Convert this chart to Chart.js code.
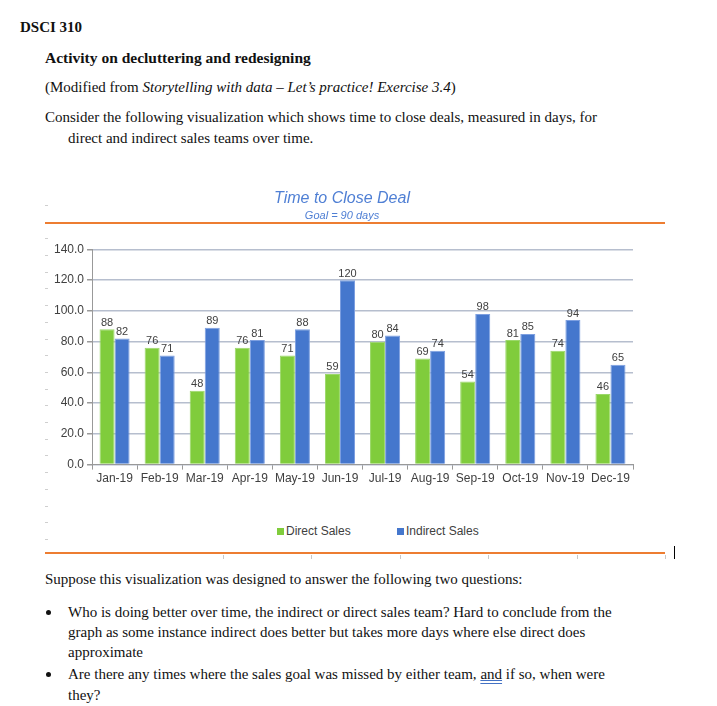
<!DOCTYPE html>
<html>
<head>
<meta charset="utf-8">
<script src="https://cdn.jsdelivr.net/npm/chart.js@4/dist/chart.umd.min.js"></script>
<style>
  html, body { margin: 0; padding: 0; background: #fff; }
  #page { position: relative; width: 717px; height: 706px; overflow: hidden;
    font-family: "Liberation Serif", "Times New Roman", serif; color: #111; font-size: 15px; }
  .t { position: absolute; white-space: nowrap; line-height: 1; }
  .b { font-weight: bold; }
  .bul { position: absolute; left: 46px; width: 5px; height: 5px; border-radius: 50%; background: #111; }
  .ul { text-decoration: underline double #4472c4; }
  #c { position: absolute; left: 40px; top: 180px; }
  .hr { position: absolute; left: 45px; width: 620px; height: 2px; background: #ed7d31; }
  #dashes { position: absolute; left: 45px; top: 205px; width: 3px; height: 345px;
    background: repeating-linear-gradient(to bottom, #cfcfcf 0 1px, transparent 1px 16.7px); }
  #ticks { position: absolute; left: 223px; top: 555px; width: 443px; height: 4px;
    background: repeating-linear-gradient(to right, #c8c8c8 0 1px, transparent 1px 88.4px); }
  #cursor { position: absolute; left: 674px; top: 546px; width: 1px; height: 13px; background: #000; }
  #legend { position: absolute; top: 524px; left: 277px; font: 12px "Liberation Sans", Arial, sans-serif; color: #404040; }
  #legend span.item { position: absolute; white-space: nowrap; line-height: 14px; }
  #legend i { display: inline-block; width: 7px; height: 7px; margin-right: 2px; vertical-align: 0px; }
</style>
</head>
<body>
<div id="page">
  <div class="t b" style="left:20px; top:20px; font-size:15px;">DSCI 310</div>
  <div class="t b" style="left:45px; top:50px; font-size:15.5px;">Activity on decluttering and redesigning</div>
  <div class="t" style="left:45px; top:80px;">(Modified from <i>Storytelling with data – Let’s practice! Exercise 3.4</i>)</div>
  <div class="t" style="left:45px; top:110px;">Consider the following visualization which shows time to close deals, measured in days, for</div>
  <div class="t" style="left:68px; top:131px;">direct and indirect sales teams over time.</div>

  <div id="dashes"></div>
  <div class="hr" style="top:222px;"></div>
  <canvas id="c" width="635" height="308"></canvas>
  <div id="legend"></div>
  <div class="hr" style="top:552px;"></div>
  <div id="ticks"></div>
  <div id="cursor"></div>

  <div class="t" style="left:45px; top:572px;">Suppose this visualization was designed to answer the following two questions:</div>
  <div class="bul" style="top:610px;"></div>
  <div class="t" style="left:68px; top:605px;">Who is doing better over time, the indirect or direct sales team? Hard to conclude from the</div>
  <div class="t" style="left:68px; top:625px;">graph as some instance indirect does better but takes more days where else direct does</div>
  <div class="t" style="left:68px; top:645px;">approximate</div>
  <div class="bul" style="top:672px;"></div>
  <div class="t" style="left:68px; top:667px;">Are there any times where the sales goal was missed by either team, <span class="ul">and</span> if so, when were</div>
  <div class="t" style="left:68px; top:688px;">they?</div>
</div>

<script>
// === данные ===
const months = ['Jan-19','Feb-19','Mar-19','Apr-19','May-19','Jun-19','Jul-19','Aug-19','Sep-19','Oct-19','Nov-19','Dec-19'];
const directSales   = [88, 76, 48, 76, 71, 59, 80, 69, 54, 81, 74, 46];
const indirectSales = [82, 71, 89, 81, 88, 120, 84, 74, 98, 85, 94, 65];
const seriesNames = ['Direct Sales', 'Indirect Sales'];
const yMax = 140, yStep = 20;

const green = '#80cc3c', blue = '#4577cd';
const sans = '"Liberation Sans", Arial, sans-serif';

// подписи значений над столбцами
const valueLabels = {
  id: 'valueLabels',
  afterDatasetsDraw(chart) {
    const ctx = chart.ctx;
    ctx.save();
    ctx.font = '11px ' + sans;
    ctx.fillStyle = '#404040';
    ctx.textAlign = 'center';
    ctx.textBaseline = 'bottom';
    chart.data.datasets.forEach((ds, i) => {
      chart.getDatasetMeta(i).data.forEach((bar, j) => {
        ctx.fillText(ds.data[j], bar.x, bar.y - 1);
      });
    });
    ctx.restore();
  }
};

const chart = new Chart(document.getElementById('c'), {
  type: 'bar',
  data: {
    labels: months,
    datasets: [
      { label: seriesNames[0], data: directSales, backgroundColor: green, borderColor: '#9bd86a', borderWidth: 1 },
      { label: seriesNames[1], data: indirectSales, backgroundColor: blue, borderColor: '#7d9fe0', borderWidth: 1 }
    ]
  },
  options: {
    responsive: false,
    animation: false,
    layout: { padding: { left: 11, right: 42, top: 0, bottom: 0 } },
    datasets: { bar: { categoryPercentage: 0.667, barPercentage: 1.0 } },
    plugins: {
      legend: { display: false },
      tooltip: { enabled: false },
      title: {
        display: true, text: 'Time to Close Deal', color: '#4f7fd4',
        font: { family: sans, size: 16, style: 'italic', weight: 'normal' },
        padding: { top: 9, bottom: 1 }
      },
      subtitle: {
        display: true, text: 'Goal = 90 days', color: '#4f7fd4',
        font: { family: sans, size: 11, style: 'italic' },
        padding: { top: 0, bottom: 27 }
      }
    },
    scales: {
      x: {
        grid: { display: true, drawOnChartArea: false, drawTicks: true, tickLength: 5, tickColor: '#999', offset: true },
        border: { color: '#999', width: 1 },
        ticks: { color: '#404040', font: { family: sans, size: 12 }, padding: 2, maxRotation: 0, autoSkip: false }
      },
      y: {
        min: 0, max: yMax,
        grid: { color: '#b6bece', lineWidth: 1.5, tickLength: 5, tickColor: '#999' },
        border: { color: '#999', width: 1 },
        ticks: { stepSize: yStep, color: '#404040', font: { family: sans, size: 12 }, padding: 3,
          callback: v => v.toFixed(1) }
      }
    }
  },
  plugins: [valueLabels]
});

// легенда
const legend = document.getElementById('legend');
const legendX = [0, 120];
chart.data.datasets.forEach((ds, i) => {
  const item = document.createElement('span');
  item.className = 'item';
  item.style.left = legendX[i] + 'px';
  item.innerHTML = '<i style="background:' + ds.backgroundColor + '"></i>' + ds.label;
  legend.appendChild(item);
});
</script>
</body>
</html>
